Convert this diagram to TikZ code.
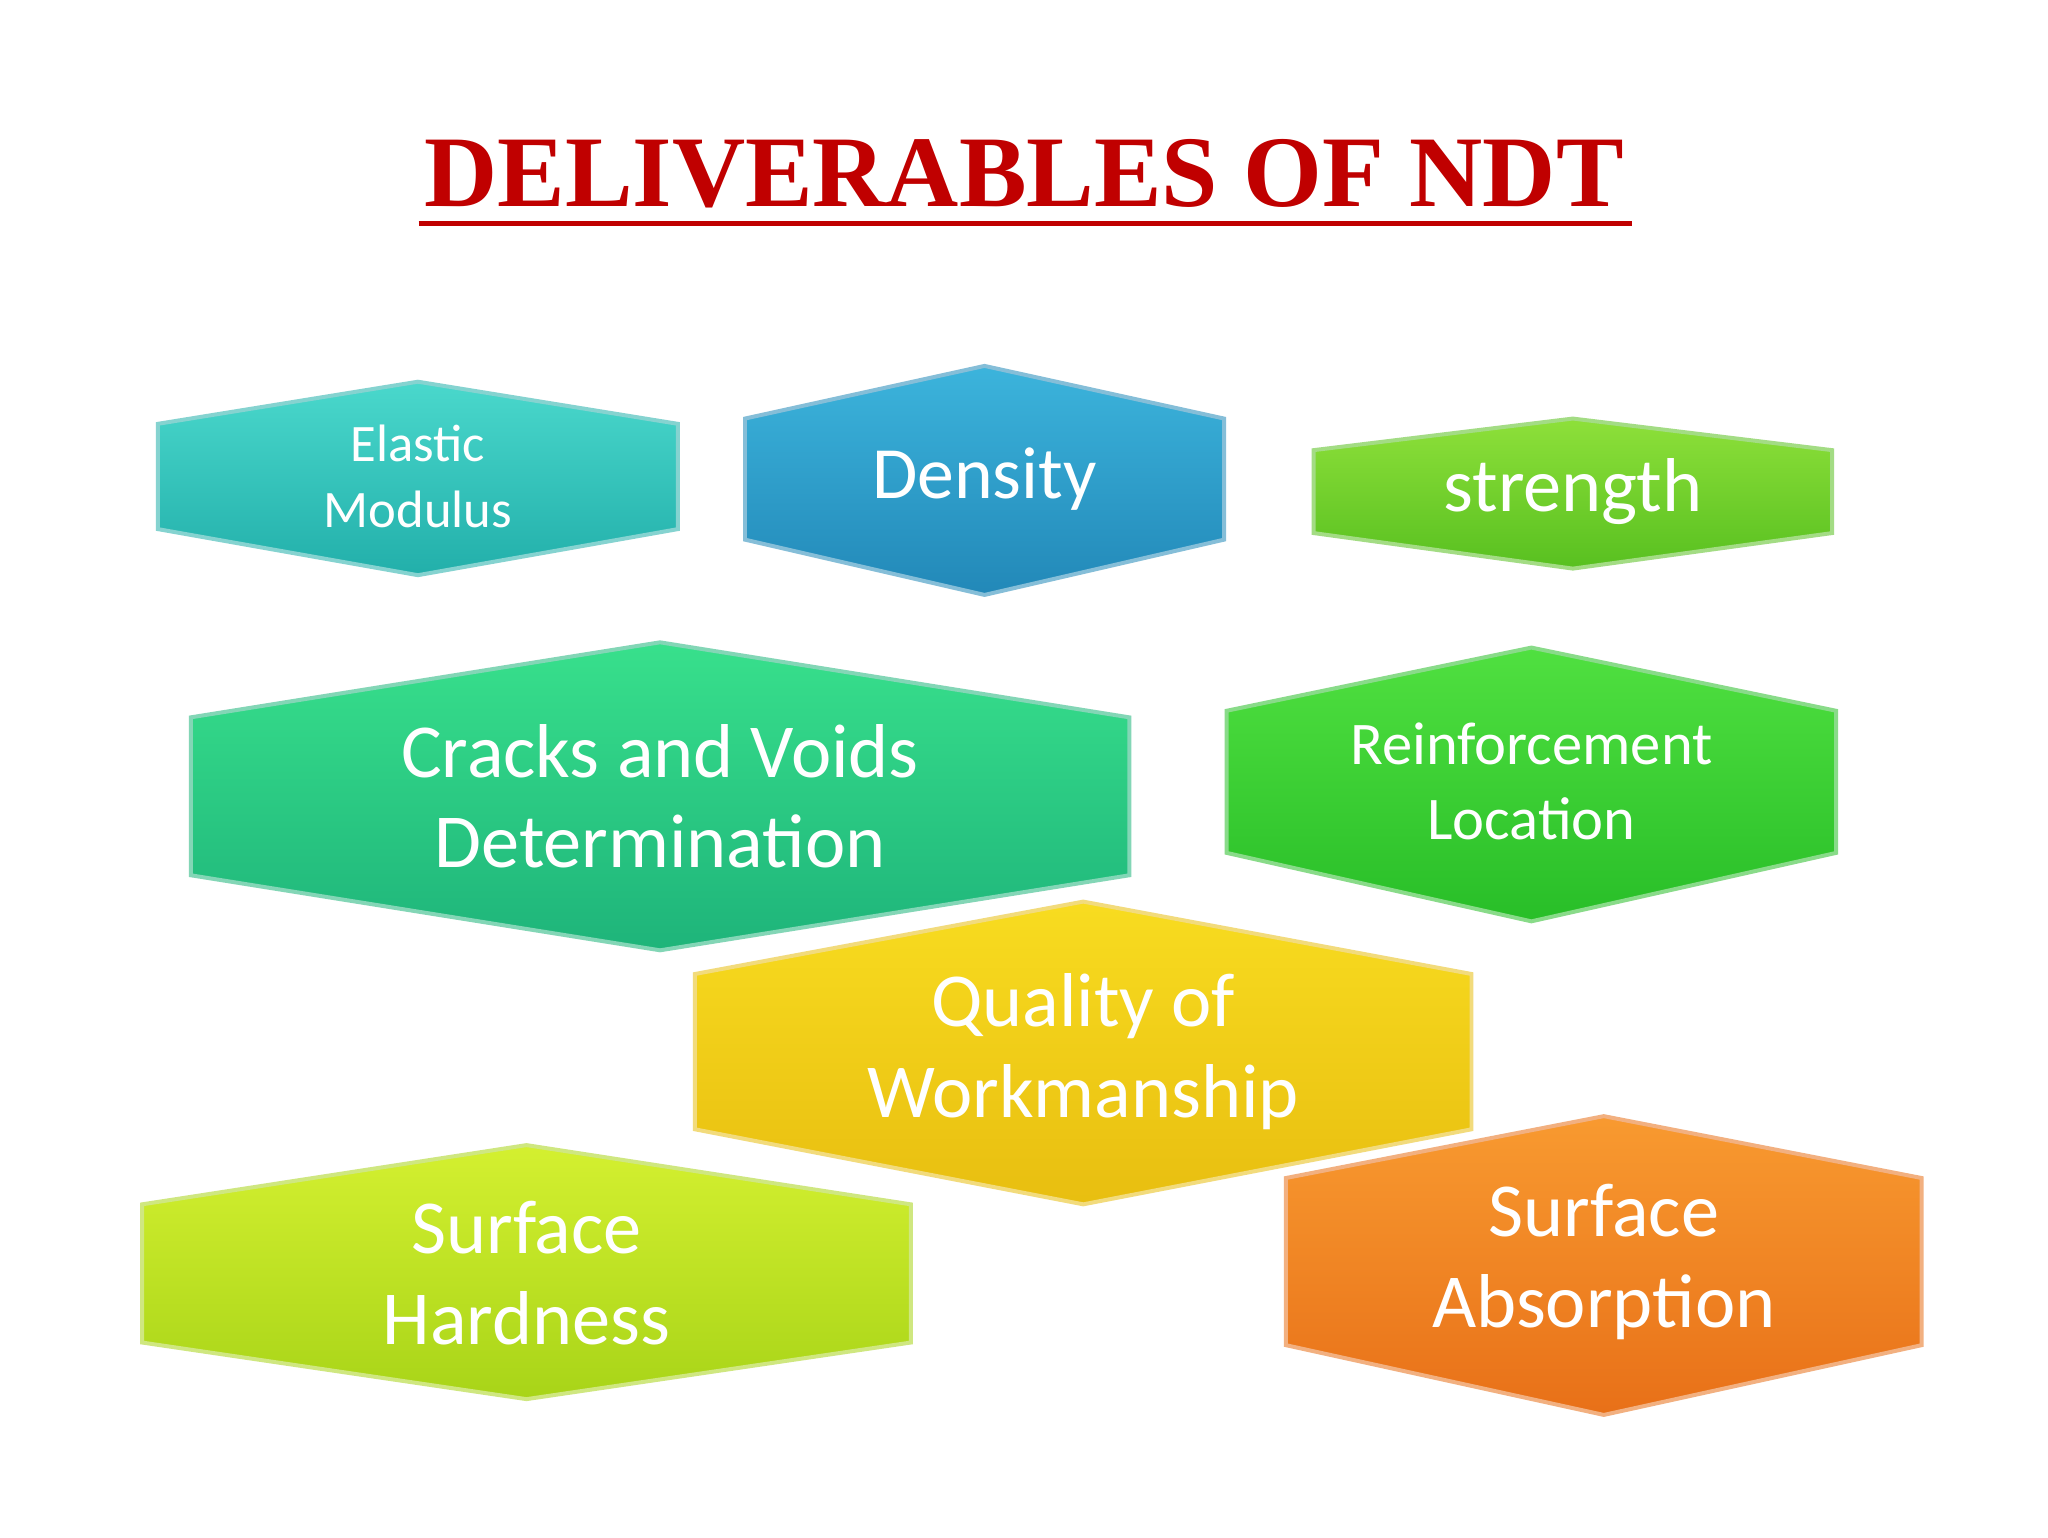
\documentclass[tikz,border=0pt]{standalone}
\usepackage{fontspec}
\setmainfont{Liberation Serif}
\newfontfamily\calib{Carlito}
\definecolor{titred}{HTML}{C00000}
\definecolor{emT}{HTML}{4AD8CC}\definecolor{emB}{HTML}{22AFAA}
\definecolor{deT}{HTML}{3CB4DC}\definecolor{deB}{HTML}{2288B8}
\definecolor{stT}{HTML}{8EE03A}\definecolor{stB}{HTML}{58C020}
\definecolor{cvT}{HTML}{38E08C}\definecolor{cvB}{HTML}{1EB47A}
\definecolor{rlT}{HTML}{50E040}\definecolor{rlB}{HTML}{28BE28}
\definecolor{qwT}{HTML}{F8DC20}\definecolor{qwB}{HTML}{E8BE10}
\definecolor{shT}{HTML}{D4F030}\definecolor{shB}{HTML}{A8D418}
\definecolor{saT}{HTML}{F89A30}\definecolor{saB}{HTML}{E87018}
\newcommand{\hexshape}[9]{%
  \pgfmathsetmacro{\cx}{(#2+#3)/2}
  \draw[line width=3pt, draw=#9!55!white, top color=#8, bottom color=#9]
    (#2,#5) -- (\cx,#4) -- (#3,#5) -- (#3,#6) -- (\cx,#7) -- (#2,#6) -- cycle;
  \coordinate (#1) at (\cx,{(#5+#6)/2});
}
\tikzset{lbl/.style={text=white, align=center}}
\begin{document}
\begin{tikzpicture}[x=1pt,y=-1pt]
\useasboundingbox[fill=white] (0,0) rectangle (1556,1168);
\node[text=titred, font=\fontsize{77}{85}\selectfont\bfseries, anchor=base, inner sep=0] (title) at (778,157) {DELIVERABLES OF NDT};
\draw[titred, line width=4pt] (318,170) -- (1240,170);
\hexshape{em}{120}{515}{290}{322}{402}{437}{emT}{emB}
\hexshape{de}{566}{930}{278}{318}{410}{452}{deT}{deB}
\hexshape{st}{998}{1392}{318}{342}{405}{432}{stT}{stB}
\hexshape{cv}{145}{858}{488}{545}{665}{722}{cvT}{cvB}
\hexshape{rl}{932}{1395}{492}{540}{648}{700}{rlT}{rlB}
\hexshape{qw}{528}{1118}{685}{740}{858}{915}{qwT}{qwB}
\hexshape{sh}{108}{692}{870}{915}{1020}{1063}{shT}{shB}
\hexshape{sa}{977}{1460}{848}{895}{1022}{1075}{saT}{saB}
\node[lbl, font=\calib\fontsize{40}{50}\selectfont] at (em) {Elastic\\Modulus};
\node[lbl, font=\calib\fontsize{56}{60}\selectfont] at (de) {Density};
\node[lbl, font=\calib\fontsize{58}{60}\selectfont] at (st) {strength};
\node[lbl, font=\calib\fontsize{58}{69}\selectfont] at (cv) {Cracks and Voids\\Determination};
\node[lbl, font=\calib\fontsize{46}{57}\selectfont] at (rl) {Reinforcement\\Location};
\node[lbl, font=\calib\fontsize{58}{69}\selectfont] at (qw) {Quality of\\Workmanship};
\node[lbl, font=\calib\fontsize{58}{69}\selectfont] at (sh) {Surface\\Hardness};
\node[lbl, font=\calib\fontsize{58}{69}\selectfont] at (sa) {Surface\\Absorption};
\end{tikzpicture}
\end{document}
